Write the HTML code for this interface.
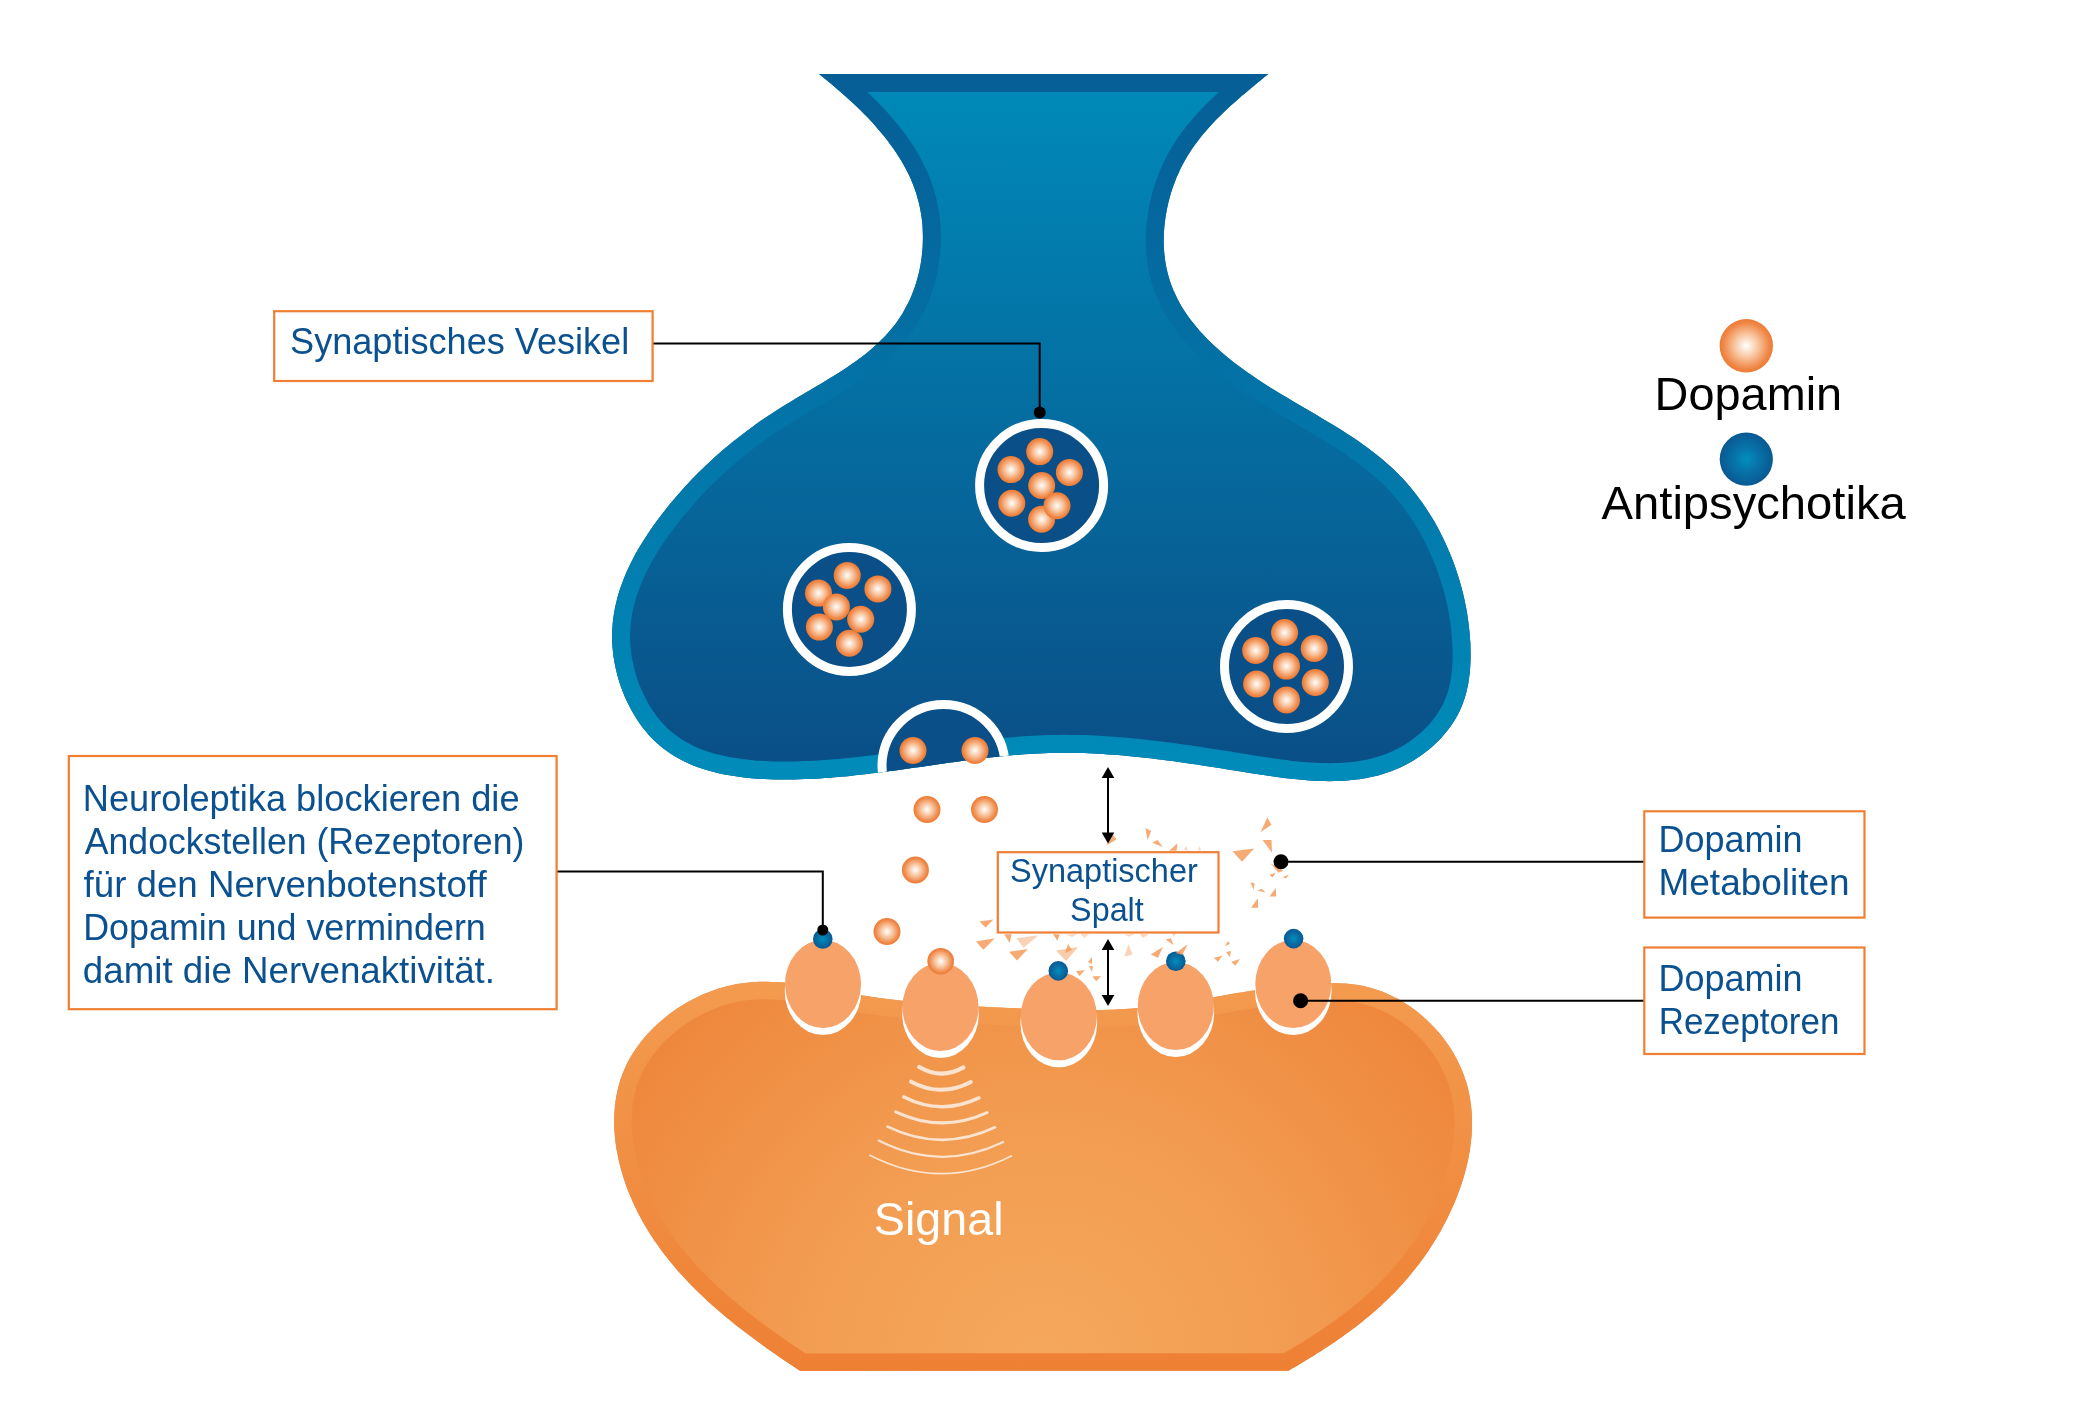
<!DOCTYPE html>
<html><head><meta charset="utf-8"><title>Synapse</title>
<style>html,body{margin:0;padding:0;background:#fff;width:2084px;height:1426px;overflow:hidden}</style>
</head><body>
<svg width="2084" height="1426" viewBox="0 0 2084 1426" style="display:block;font-family:'Liberation Sans',sans-serif">
<defs>
<linearGradient id="gBo" x1="0" y1="74" x2="0" y2="781" gradientUnits="userSpaceOnUse">
 <stop offset="0" stop-color="#065e96"/><stop offset="1" stop-color="#008cba"/></linearGradient>
<linearGradient id="gBi" x1="0" y1="92" x2="0" y2="763" gradientUnits="userSpaceOnUse">
 <stop offset="0" stop-color="#0089b8"/><stop offset="1" stop-color="#0a4f87"/></linearGradient>
<linearGradient id="gOo" x1="0" y1="983" x2="0" y2="1370" gradientUnits="userSpaceOnUse">
 <stop offset="0" stop-color="#f39b4f"/><stop offset="1" stop-color="#ee8034"/></linearGradient>
<radialGradient id="gOi" cx="1043" cy="1365" r="560" gradientUnits="userSpaceOnUse">
 <stop offset="0" stop-color="#f5a85c"/><stop offset="0.45" stop-color="#f29c51"/><stop offset="1" stop-color="#ed8237"/></radialGradient>
<radialGradient id="gD" cx="0.5" cy="0.5" r="0.5">
 <stop offset="0" stop-color="#ffffff"/><stop offset="0.45" stop-color="#f8c49e"/><stop offset="0.85" stop-color="#f08848"/><stop offset="1" stop-color="#ed7b33"/></radialGradient>
<radialGradient id="gA" cx="0.5" cy="0.5" r="0.5">
 <stop offset="0" stop-color="#0090bb"/><stop offset="0.35" stop-color="#0679ad"/><stop offset="1" stop-color="#0a5892"/></radialGradient>
<filter id="noop" x="0" y="0" width="2084" height="1426" filterUnits="userSpaceOnUse"><feOffset dx="0" dy="0"/></filter>
<clipPath id="clipBlue"><path d="M819.0 74.0 L822.7 77.0 L826.4 80.0 L830.1 83.1 L833.9 86.2 L837.6 89.4 L841.4 92.7 L845.1 96.0 L848.9 99.4 L852.6 102.8 L856.3 106.3 L860.0 109.8 L863.6 113.4 L867.2 117.1 L870.7 120.8 L874.1 124.6 L877.5 128.5 L880.9 132.4 L884.1 136.3 L887.3 140.3 L890.3 144.4 L893.3 148.5 L896.2 152.7 L898.9 157.0 L901.6 161.3 L904.1 165.7 L906.4 170.1 L908.7 174.6 L910.8 179.1 L912.7 183.7 L914.5 188.4 L916.1 193.1 L917.5 197.9 L918.8 202.7 L919.9 207.6 L920.8 212.6 L921.6 217.5 L922.2 222.5 L922.6 227.5 L922.8 232.5 L922.9 237.5 L922.8 242.6 L922.6 247.6 L922.2 252.6 L921.6 257.6 L920.9 262.5 L920.0 267.4 L919.0 272.3 L917.7 277.2 L916.4 281.9 L914.9 286.7 L913.2 291.3 L911.4 295.9 L909.4 300.4 L907.2 304.8 L904.9 309.1 L902.5 313.4 L899.9 317.5 L897.2 321.5 L894.3 325.4 L891.3 329.1 L888.1 332.8 L884.8 336.4 L881.4 339.8 L877.9 343.2 L874.3 346.5 L870.6 349.8 L866.8 352.9 L862.9 356.0 L858.9 359.0 L854.8 361.9 L850.7 364.8 L846.5 367.7 L842.3 370.5 L838.0 373.2 L833.6 375.9 L829.3 378.6 L824.9 381.3 L820.5 383.9 L816.0 386.6 L811.6 389.2 L807.1 391.8 L802.7 394.4 L798.2 397.1 L793.8 399.7 L789.4 402.4 L785.1 405.0 L780.7 407.7 L776.4 410.4 L772.2 413.2 L768.0 416.0 L763.8 418.8 L759.7 421.6 L755.6 424.5 L751.6 427.4 L747.6 430.4 L743.6 433.4 L739.7 436.4 L735.8 439.5 L731.9 442.5 L728.1 445.7 L724.4 448.8 L720.6 452.0 L716.9 455.3 L713.3 458.6 L709.7 461.9 L706.1 465.3 L702.5 468.7 L699.0 472.1 L695.6 475.6 L692.1 479.1 L688.7 482.7 L685.4 486.3 L682.1 490.0 L678.8 493.7 L675.5 497.5 L672.3 501.3 L669.1 505.1 L666.0 509.0 L662.9 513.0 L659.8 517.0 L656.8 521.0 L653.8 525.1 L650.9 529.3 L648.1 533.4 L645.3 537.7 L642.6 542.0 L640.0 546.3 L637.4 550.6 L634.9 555.0 L632.6 559.5 L630.3 564.0 L628.2 568.5 L626.1 573.1 L624.2 577.7 L622.4 582.4 L620.7 587.1 L619.1 591.8 L617.7 596.6 L616.5 601.4 L615.3 606.2 L614.4 611.1 L613.6 616.0 L612.9 620.9 L612.5 625.9 L612.2 630.9 L612.1 636.0 L612.1 641.1 L612.4 646.2 L612.9 651.3 L613.5 656.4 L614.3 661.6 L615.3 666.7 L616.5 671.8 L617.8 676.9 L619.3 681.9 L621.0 686.9 L622.8 691.8 L624.8 696.7 L627.0 701.4 L629.3 706.1 L631.7 710.7 L634.3 715.1 L637.0 719.5 L639.9 723.7 L642.8 727.7 L646.0 731.6 L649.2 735.4 L652.6 738.9 L656.1 742.3 L659.7 745.5 L663.4 748.5 L667.2 751.3 L671.1 754.0 L675.1 756.5 L679.2 758.8 L683.4 761.0 L687.7 763.0 L692.0 764.9 L696.5 766.7 L701.0 768.3 L705.6 769.7 L710.2 771.1 L714.9 772.3 L719.6 773.4 L724.4 774.4 L729.3 775.3 L734.2 776.1 L739.1 776.8 L744.1 777.4 L749.0 777.9 L754.0 778.4 L759.1 778.7 L764.1 779.0 L769.2 779.2 L774.2 779.4 L779.3 779.4 L784.4 779.5 L789.4 779.5 L794.5 779.4 L799.6 779.3 L804.6 779.1 L809.7 778.9 L814.7 778.7 L819.8 778.4 L824.8 778.0 L829.8 777.7 L834.9 777.3 L839.9 776.8 L845.0 776.4 L850.0 775.9 L855.0 775.3 L860.0 774.8 L865.1 774.2 L870.1 773.6 L875.1 773.0 L880.1 772.4 L885.1 771.7 L890.1 771.1 L895.2 770.4 L900.2 769.7 L905.2 769.0 L910.2 768.3 L915.2 767.6 L920.2 766.9 L925.1 766.2 L930.1 765.4 L935.1 764.7 L940.1 764.0 L945.1 763.3 L950.1 762.6 L955.0 761.9 L960.0 761.3 L965.0 760.6 L970.0 759.9 L974.9 759.3 L979.9 758.7 L984.8 758.1 L989.8 757.5 L994.7 757.0 L999.7 756.5 L1004.6 756.0 L1009.6 755.5 L1014.5 755.1 L1019.5 754.7 L1024.4 754.3 L1029.4 754.0 L1034.3 753.7 L1039.2 753.4 L1044.1 753.2 L1049.1 753.1 L1054.0 752.9 L1058.9 752.9 L1063.8 752.8 L1068.7 752.9 L1073.7 752.9 L1078.6 753.0 L1083.5 753.1 L1088.4 753.3 L1093.3 753.5 L1098.2 753.8 L1103.1 754.1 L1108.1 754.4 L1113.0 754.7 L1117.9 755.1 L1122.8 755.5 L1127.8 756.0 L1132.7 756.4 L1137.6 756.9 L1142.6 757.4 L1147.5 758.0 L1152.5 758.6 L1157.4 759.2 L1162.4 759.8 L1167.3 760.4 L1172.3 761.1 L1177.3 761.8 L1182.3 762.5 L1187.3 763.2 L1192.3 763.9 L1197.3 764.6 L1202.3 765.4 L1207.3 766.2 L1212.4 767.0 L1217.4 767.7 L1222.5 768.6 L1227.6 769.4 L1232.6 770.2 L1237.7 771.0 L1242.8 771.8 L1248.0 772.7 L1253.1 773.5 L1258.2 774.3 L1263.4 775.1 L1268.5 775.8 L1273.6 776.6 L1278.8 777.3 L1283.9 777.9 L1289.0 778.6 L1294.1 779.1 L1299.2 779.6 L1304.3 780.1 L1309.4 780.5 L1314.5 780.8 L1319.5 781.0 L1324.6 781.1 L1329.6 781.2 L1334.6 781.1 L1339.5 781.0 L1344.5 780.7 L1349.4 780.3 L1354.2 779.8 L1359.1 779.2 L1363.9 778.5 L1368.6 777.6 L1373.4 776.6 L1378.1 775.4 L1382.7 774.1 L1387.3 772.6 L1391.9 771.0 L1396.4 769.1 L1400.8 767.2 L1405.2 765.0 L1409.5 762.7 L1413.8 760.2 L1417.9 757.5 L1422.0 754.8 L1425.9 751.8 L1429.8 748.7 L1433.5 745.5 L1437.0 742.1 L1440.5 738.7 L1443.7 735.0 L1446.8 731.3 L1449.8 727.4 L1452.5 723.5 L1455.1 719.4 L1457.5 715.2 L1459.7 710.9 L1461.6 706.5 L1463.3 702.1 L1464.9 697.5 L1466.2 692.9 L1467.3 688.1 L1468.3 683.4 L1469.0 678.5 L1469.7 673.6 L1470.1 668.7 L1470.4 663.7 L1470.6 658.7 L1470.6 653.6 L1470.5 648.6 L1470.4 643.5 L1470.0 638.4 L1469.6 633.3 L1469.1 628.2 L1468.5 623.1 L1467.8 618.0 L1467.0 612.8 L1466.1 607.8 L1465.1 602.7 L1464.0 597.6 L1462.8 592.5 L1461.5 587.5 L1460.1 582.5 L1458.6 577.5 L1457.0 572.5 L1455.3 567.6 L1453.6 562.7 L1451.7 557.8 L1449.8 553.0 L1447.7 548.2 L1445.6 543.5 L1443.4 538.8 L1441.1 534.2 L1438.8 529.6 L1436.3 525.1 L1433.8 520.6 L1431.1 516.3 L1428.4 511.9 L1425.7 507.7 L1422.8 503.5 L1419.9 499.4 L1416.9 495.4 L1413.8 491.4 L1410.6 487.6 L1407.4 483.8 L1404.1 480.1 L1400.7 476.5 L1397.3 473.0 L1393.8 469.6 L1390.2 466.3 L1386.5 463.0 L1382.8 459.8 L1379.1 456.7 L1375.3 453.7 L1371.4 450.7 L1367.5 447.8 L1363.6 444.9 L1359.6 442.1 L1355.6 439.3 L1351.5 436.6 L1347.4 433.9 L1343.3 431.2 L1339.1 428.6 L1334.9 426.0 L1330.7 423.5 L1326.4 420.9 L1322.2 418.4 L1317.9 415.8 L1313.6 413.3 L1309.3 410.8 L1305.0 408.3 L1300.7 405.8 L1296.4 403.2 L1292.1 400.7 L1287.8 398.1 L1283.4 395.6 L1279.1 393.0 L1274.8 390.3 L1270.5 387.7 L1266.3 385.0 L1262.0 382.2 L1257.8 379.5 L1253.6 376.6 L1249.4 373.7 L1245.2 370.8 L1241.1 367.8 L1237.0 364.8 L1233.0 361.7 L1229.0 358.5 L1225.1 355.3 L1221.2 352.0 L1217.4 348.6 L1213.7 345.2 L1210.1 341.7 L1206.5 338.2 L1203.1 334.6 L1199.7 330.9 L1196.5 327.1 L1193.4 323.3 L1190.4 319.4 L1187.5 315.5 L1184.8 311.4 L1182.2 307.4 L1179.8 303.2 L1177.5 298.9 L1175.4 294.6 L1173.4 290.2 L1171.6 285.8 L1170.0 281.2 L1168.6 276.6 L1167.4 271.9 L1166.3 267.2 L1165.4 262.3 L1164.8 257.5 L1164.2 252.6 L1163.9 247.6 L1163.7 242.6 L1163.8 237.6 L1163.9 232.6 L1164.3 227.5 L1164.8 222.5 L1165.5 217.5 L1166.3 212.4 L1167.3 207.4 L1168.4 202.5 L1169.7 197.5 L1171.1 192.6 L1172.7 187.7 L1174.5 182.9 L1176.3 178.1 L1178.4 173.4 L1180.5 168.8 L1182.8 164.3 L1185.3 159.8 L1187.8 155.5 L1190.5 151.2 L1193.3 147.0 L1196.3 142.9 L1199.3 138.9 L1202.4 135.0 L1205.7 131.2 L1209.0 127.4 L1212.4 123.7 L1215.8 120.0 L1219.4 116.5 L1223.0 112.9 L1226.6 109.5 L1230.3 106.1 L1234.1 102.7 L1237.8 99.4 L1241.6 96.1 L1245.4 92.9 L1249.2 89.7 L1253.1 86.5 L1256.9 83.3 L1260.7 80.2 L1264.5 77.1 L1268.3 74.0 Z"/></clipPath>
<clipPath id="clipOrg"><path d="M800.3 1371.0 L796.9 1368.8 L793.6 1366.5 L790.2 1364.3 L786.8 1362.0 L783.4 1359.7 L780.0 1357.4 L776.6 1355.1 L773.2 1352.7 L769.8 1350.3 L766.4 1347.9 L763.1 1345.5 L759.7 1343.1 L756.3 1340.6 L753.0 1338.1 L749.6 1335.6 L746.3 1333.1 L742.9 1330.6 L739.6 1328.0 L736.3 1325.4 L733.0 1322.8 L729.8 1320.1 L726.5 1317.4 L723.3 1314.7 L720.1 1312.0 L716.9 1309.3 L713.7 1306.5 L710.6 1303.7 L707.5 1300.9 L704.4 1298.0 L701.3 1295.1 L698.3 1292.2 L695.3 1289.2 L692.3 1286.3 L689.4 1283.2 L686.5 1280.2 L683.6 1277.1 L680.8 1274.0 L678.0 1270.9 L675.3 1267.7 L672.6 1264.5 L669.9 1261.3 L667.3 1258.0 L664.7 1254.7 L662.2 1251.4 L659.7 1248.0 L657.3 1244.6 L654.9 1241.2 L652.6 1237.7 L650.3 1234.2 L648.1 1230.7 L645.9 1227.1 L643.8 1223.5 L641.7 1219.8 L639.7 1216.1 L637.8 1212.4 L635.9 1208.6 L634.1 1204.8 L632.4 1201.0 L630.7 1197.1 L629.1 1193.2 L627.5 1189.2 L626.0 1185.2 L624.7 1181.2 L623.3 1177.2 L622.1 1173.1 L620.9 1169.1 L619.9 1165.0 L618.9 1160.9 L618.0 1156.7 L617.2 1152.6 L616.4 1148.5 L615.8 1144.4 L615.3 1140.2 L614.9 1136.1 L614.5 1132.0 L614.3 1127.8 L614.2 1123.7 L614.2 1119.6 L614.3 1115.5 L614.5 1111.5 L614.8 1107.4 L615.2 1103.4 L615.8 1099.4 L616.5 1095.4 L617.3 1091.4 L618.2 1087.5 L619.3 1083.6 L620.4 1079.8 L621.8 1076.0 L623.2 1072.2 L624.8 1068.5 L626.5 1064.8 L628.4 1061.1 L630.3 1057.6 L632.4 1054.0 L634.7 1050.6 L637.0 1047.2 L639.5 1043.8 L642.0 1040.5 L644.7 1037.3 L647.5 1034.1 L650.4 1031.0 L653.3 1028.0 L656.4 1025.1 L659.6 1022.2 L662.8 1019.4 L666.1 1016.7 L669.5 1014.1 L672.9 1011.6 L676.5 1009.1 L680.0 1006.8 L683.7 1004.5 L687.4 1002.3 L691.2 1000.3 L695.0 998.3 L698.8 996.4 L702.7 994.6 L706.6 993.0 L710.6 991.4 L714.5 990.0 L718.6 988.6 L722.6 987.4 L726.6 986.3 L730.7 985.4 L734.8 984.5 L738.8 983.8 L742.9 983.2 L747.0 982.7 L751.1 982.3 L755.2 982.0 L759.3 981.8 L763.4 981.7 L767.5 981.8 L771.6 981.9 L775.7 982.0 L779.8 982.3 L783.9 982.6 L788.1 983.0 L792.2 983.4 L796.3 983.9 L800.4 984.5 L804.6 985.1 L808.7 985.7 L812.8 986.4 L817.0 987.1 L821.1 987.8 L825.3 988.6 L829.4 989.3 L833.6 990.1 L837.7 990.9 L841.9 991.6 L846.0 992.4 L850.2 993.2 L854.3 993.9 L858.5 994.7 L862.7 995.4 L866.8 996.0 L871.0 996.7 L875.1 997.3 L879.3 997.9 L883.5 998.5 L887.6 999.0 L891.8 999.5 L895.9 1000.0 L900.1 1000.5 L904.3 1001.0 L908.4 1001.4 L912.6 1001.8 L916.8 1002.2 L920.9 1002.6 L925.1 1003.0 L929.3 1003.3 L933.4 1003.7 L937.6 1004.0 L941.8 1004.3 L945.9 1004.6 L950.1 1004.9 L954.3 1005.1 L958.4 1005.4 L962.6 1005.7 L966.8 1005.9 L970.9 1006.1 L975.1 1006.4 L979.3 1006.6 L983.4 1006.8 L987.6 1007.0 L991.8 1007.2 L995.9 1007.4 L1000.1 1007.6 L1004.2 1007.8 L1008.4 1008.0 L1012.6 1008.1 L1016.7 1008.3 L1020.9 1008.5 L1025.1 1008.7 L1029.2 1008.9 L1033.4 1009.1 L1037.6 1009.2 L1041.7 1009.4 L1045.9 1009.5 L1050.0 1009.7 L1054.2 1009.8 L1058.4 1009.9 L1062.5 1010.0 L1066.7 1010.1 L1070.8 1010.1 L1075.0 1010.2 L1079.2 1010.2 L1083.3 1010.2 L1087.5 1010.2 L1091.6 1010.2 L1095.8 1010.1 L1099.9 1010.1 L1104.1 1010.0 L1108.3 1009.8 L1112.4 1009.7 L1116.6 1009.5 L1120.7 1009.3 L1124.9 1009.0 L1129.0 1008.7 L1133.2 1008.4 L1137.4 1008.1 L1141.5 1007.7 L1145.7 1007.2 L1149.8 1006.8 L1154.0 1006.3 L1158.1 1005.8 L1162.3 1005.3 L1166.4 1004.7 L1170.6 1004.1 L1174.8 1003.5 L1178.9 1002.9 L1183.1 1002.2 L1187.2 1001.6 L1191.4 1000.9 L1195.5 1000.2 L1199.7 999.5 L1203.9 998.8 L1208.0 998.1 L1212.2 997.4 L1216.3 996.7 L1220.5 995.9 L1224.7 995.2 L1228.8 994.5 L1233.0 993.8 L1237.1 993.1 L1241.3 992.4 L1245.5 991.7 L1249.6 991.1 L1253.8 990.4 L1258.0 989.8 L1262.1 989.1 L1266.3 988.5 L1270.5 988.0 L1274.6 987.4 L1278.8 986.9 L1283.0 986.4 L1287.2 985.9 L1291.3 985.5 L1295.5 985.1 L1299.7 984.7 L1303.9 984.4 L1308.1 984.1 L1312.2 983.8 L1316.4 983.6 L1320.6 983.5 L1324.8 983.4 L1329.0 983.3 L1333.2 983.3 L1337.4 983.3 L1341.6 983.4 L1345.7 983.6 L1349.9 984.0 L1354.0 984.4 L1358.1 985.1 L1362.2 985.8 L1366.2 986.7 L1370.3 987.7 L1374.2 988.9 L1378.1 990.2 L1382.0 991.6 L1385.9 993.2 L1389.7 994.9 L1393.4 996.7 L1397.1 998.6 L1400.7 1000.6 L1404.3 1002.8 L1407.8 1005.0 L1411.2 1007.3 L1414.6 1009.8 L1417.9 1012.3 L1421.1 1015.0 L1424.3 1017.7 L1427.3 1020.5 L1430.3 1023.4 L1433.3 1026.4 L1436.1 1029.5 L1438.8 1032.6 L1441.5 1035.8 L1444.0 1039.1 L1446.5 1042.4 L1448.8 1045.8 L1451.1 1049.3 L1453.2 1052.8 L1455.3 1056.4 L1457.2 1060.0 L1459.0 1063.7 L1460.7 1067.5 L1462.3 1071.2 L1463.8 1075.0 L1465.1 1078.9 L1466.4 1082.7 L1467.5 1086.6 L1468.4 1090.6 L1469.3 1094.5 L1470.0 1098.5 L1470.6 1102.5 L1471.1 1106.5 L1471.5 1110.6 L1471.8 1114.6 L1472.0 1118.7 L1472.0 1122.8 L1472.0 1126.9 L1471.8 1131.0 L1471.6 1135.2 L1471.2 1139.3 L1470.8 1143.4 L1470.2 1147.6 L1469.6 1151.7 L1468.8 1155.8 L1468.0 1160.0 L1467.1 1164.1 L1466.1 1168.2 L1465.0 1172.3 L1463.9 1176.4 L1462.6 1180.5 L1461.3 1184.6 L1459.9 1188.7 L1458.4 1192.7 L1456.9 1196.7 L1455.3 1200.8 L1453.6 1204.7 L1451.8 1208.7 L1450.0 1212.6 L1448.2 1216.5 L1446.2 1220.4 L1444.2 1224.3 L1442.2 1228.1 L1440.1 1231.9 L1437.9 1235.6 L1435.7 1239.3 L1433.4 1243.0 L1431.1 1246.6 L1428.8 1250.2 L1426.4 1253.7 L1424.0 1257.2 L1421.5 1260.6 L1419.0 1264.0 L1416.4 1267.3 L1413.8 1270.6 L1411.2 1273.8 L1408.6 1277.0 L1405.9 1280.1 L1403.2 1283.2 L1400.4 1286.3 L1397.6 1289.3 L1394.8 1292.2 L1391.9 1295.1 L1389.0 1298.0 L1386.1 1300.8 L1383.1 1303.6 L1380.2 1306.4 L1377.1 1309.1 L1374.1 1311.8 L1371.0 1314.4 L1367.9 1317.1 L1364.7 1319.6 L1361.6 1322.2 L1358.4 1324.7 L1355.1 1327.2 L1351.8 1329.7 L1348.6 1332.1 L1345.2 1334.6 L1341.9 1336.9 L1338.5 1339.3 L1335.1 1341.7 L1331.7 1344.0 L1328.2 1346.3 L1324.7 1348.6 L1321.2 1350.9 L1317.6 1353.1 L1314.1 1355.4 L1310.5 1357.6 L1306.9 1359.8 L1303.2 1362.0 L1299.6 1364.2 L1295.9 1366.4 L1292.1 1368.5 L1288.4 1370.7 Z"/></clipPath>
</defs>
<rect width="2084" height="1426" fill="#fff"/>
<path d="M819.0 74.0 L822.7 77.0 L826.4 80.0 L830.1 83.1 L833.9 86.2 L837.6 89.4 L841.4 92.7 L845.1 96.0 L848.9 99.4 L852.6 102.8 L856.3 106.3 L860.0 109.8 L863.6 113.4 L867.2 117.1 L870.7 120.8 L874.1 124.6 L877.5 128.5 L880.9 132.4 L884.1 136.3 L887.3 140.3 L890.3 144.4 L893.3 148.5 L896.2 152.7 L898.9 157.0 L901.6 161.3 L904.1 165.7 L906.4 170.1 L908.7 174.6 L910.8 179.1 L912.7 183.7 L914.5 188.4 L916.1 193.1 L917.5 197.9 L918.8 202.7 L919.9 207.6 L920.8 212.6 L921.6 217.5 L922.2 222.5 L922.6 227.5 L922.8 232.5 L922.9 237.5 L922.8 242.6 L922.6 247.6 L922.2 252.6 L921.6 257.6 L920.9 262.5 L920.0 267.4 L919.0 272.3 L917.7 277.2 L916.4 281.9 L914.9 286.7 L913.2 291.3 L911.4 295.9 L909.4 300.4 L907.2 304.8 L904.9 309.1 L902.5 313.4 L899.9 317.5 L897.2 321.5 L894.3 325.4 L891.3 329.1 L888.1 332.8 L884.8 336.4 L881.4 339.8 L877.9 343.2 L874.3 346.5 L870.6 349.8 L866.8 352.9 L862.9 356.0 L858.9 359.0 L854.8 361.9 L850.7 364.8 L846.5 367.7 L842.3 370.5 L838.0 373.2 L833.6 375.9 L829.3 378.6 L824.9 381.3 L820.5 383.9 L816.0 386.6 L811.6 389.2 L807.1 391.8 L802.7 394.4 L798.2 397.1 L793.8 399.7 L789.4 402.4 L785.1 405.0 L780.7 407.7 L776.4 410.4 L772.2 413.2 L768.0 416.0 L763.8 418.8 L759.7 421.6 L755.6 424.5 L751.6 427.4 L747.6 430.4 L743.6 433.4 L739.7 436.4 L735.8 439.5 L731.9 442.5 L728.1 445.7 L724.4 448.8 L720.6 452.0 L716.9 455.3 L713.3 458.6 L709.7 461.9 L706.1 465.3 L702.5 468.7 L699.0 472.1 L695.6 475.6 L692.1 479.1 L688.7 482.7 L685.4 486.3 L682.1 490.0 L678.8 493.7 L675.5 497.5 L672.3 501.3 L669.1 505.1 L666.0 509.0 L662.9 513.0 L659.8 517.0 L656.8 521.0 L653.8 525.1 L650.9 529.3 L648.1 533.4 L645.3 537.7 L642.6 542.0 L640.0 546.3 L637.4 550.6 L634.9 555.0 L632.6 559.5 L630.3 564.0 L628.2 568.5 L626.1 573.1 L624.2 577.7 L622.4 582.4 L620.7 587.1 L619.1 591.8 L617.7 596.6 L616.5 601.4 L615.3 606.2 L614.4 611.1 L613.6 616.0 L612.9 620.9 L612.5 625.9 L612.2 630.9 L612.1 636.0 L612.1 641.1 L612.4 646.2 L612.9 651.3 L613.5 656.4 L614.3 661.6 L615.3 666.7 L616.5 671.8 L617.8 676.9 L619.3 681.9 L621.0 686.9 L622.8 691.8 L624.8 696.7 L627.0 701.4 L629.3 706.1 L631.7 710.7 L634.3 715.1 L637.0 719.5 L639.9 723.7 L642.8 727.7 L646.0 731.6 L649.2 735.4 L652.6 738.9 L656.1 742.3 L659.7 745.5 L663.4 748.5 L667.2 751.3 L671.1 754.0 L675.1 756.5 L679.2 758.8 L683.4 761.0 L687.7 763.0 L692.0 764.9 L696.5 766.7 L701.0 768.3 L705.6 769.7 L710.2 771.1 L714.9 772.3 L719.6 773.4 L724.4 774.4 L729.3 775.3 L734.2 776.1 L739.1 776.8 L744.1 777.4 L749.0 777.9 L754.0 778.4 L759.1 778.7 L764.1 779.0 L769.2 779.2 L774.2 779.4 L779.3 779.4 L784.4 779.5 L789.4 779.5 L794.5 779.4 L799.6 779.3 L804.6 779.1 L809.7 778.9 L814.7 778.7 L819.8 778.4 L824.8 778.0 L829.8 777.7 L834.9 777.3 L839.9 776.8 L845.0 776.4 L850.0 775.9 L855.0 775.3 L860.0 774.8 L865.1 774.2 L870.1 773.6 L875.1 773.0 L880.1 772.4 L885.1 771.7 L890.1 771.1 L895.2 770.4 L900.2 769.7 L905.2 769.0 L910.2 768.3 L915.2 767.6 L920.2 766.9 L925.1 766.2 L930.1 765.4 L935.1 764.7 L940.1 764.0 L945.1 763.3 L950.1 762.6 L955.0 761.9 L960.0 761.3 L965.0 760.6 L970.0 759.9 L974.9 759.3 L979.9 758.7 L984.8 758.1 L989.8 757.5 L994.7 757.0 L999.7 756.5 L1004.6 756.0 L1009.6 755.5 L1014.5 755.1 L1019.5 754.7 L1024.4 754.3 L1029.4 754.0 L1034.3 753.7 L1039.2 753.4 L1044.1 753.2 L1049.1 753.1 L1054.0 752.9 L1058.9 752.9 L1063.8 752.8 L1068.7 752.9 L1073.7 752.9 L1078.6 753.0 L1083.5 753.1 L1088.4 753.3 L1093.3 753.5 L1098.2 753.8 L1103.1 754.1 L1108.1 754.4 L1113.0 754.7 L1117.9 755.1 L1122.8 755.5 L1127.8 756.0 L1132.7 756.4 L1137.6 756.9 L1142.6 757.4 L1147.5 758.0 L1152.5 758.6 L1157.4 759.2 L1162.4 759.8 L1167.3 760.4 L1172.3 761.1 L1177.3 761.8 L1182.3 762.5 L1187.3 763.2 L1192.3 763.9 L1197.3 764.6 L1202.3 765.4 L1207.3 766.2 L1212.4 767.0 L1217.4 767.7 L1222.5 768.6 L1227.6 769.4 L1232.6 770.2 L1237.7 771.0 L1242.8 771.8 L1248.0 772.7 L1253.1 773.5 L1258.2 774.3 L1263.4 775.1 L1268.5 775.8 L1273.6 776.6 L1278.8 777.3 L1283.9 777.9 L1289.0 778.6 L1294.1 779.1 L1299.2 779.6 L1304.3 780.1 L1309.4 780.5 L1314.5 780.8 L1319.5 781.0 L1324.6 781.1 L1329.6 781.2 L1334.6 781.1 L1339.5 781.0 L1344.5 780.7 L1349.4 780.3 L1354.2 779.8 L1359.1 779.2 L1363.9 778.5 L1368.6 777.6 L1373.4 776.6 L1378.1 775.4 L1382.7 774.1 L1387.3 772.6 L1391.9 771.0 L1396.4 769.1 L1400.8 767.2 L1405.2 765.0 L1409.5 762.7 L1413.8 760.2 L1417.9 757.5 L1422.0 754.8 L1425.9 751.8 L1429.8 748.7 L1433.5 745.5 L1437.0 742.1 L1440.5 738.7 L1443.7 735.0 L1446.8 731.3 L1449.8 727.4 L1452.5 723.5 L1455.1 719.4 L1457.5 715.2 L1459.7 710.9 L1461.6 706.5 L1463.3 702.1 L1464.9 697.5 L1466.2 692.9 L1467.3 688.1 L1468.3 683.4 L1469.0 678.5 L1469.7 673.6 L1470.1 668.7 L1470.4 663.7 L1470.6 658.7 L1470.6 653.6 L1470.5 648.6 L1470.4 643.5 L1470.0 638.4 L1469.6 633.3 L1469.1 628.2 L1468.5 623.1 L1467.8 618.0 L1467.0 612.8 L1466.1 607.8 L1465.1 602.7 L1464.0 597.6 L1462.8 592.5 L1461.5 587.5 L1460.1 582.5 L1458.6 577.5 L1457.0 572.5 L1455.3 567.6 L1453.6 562.7 L1451.7 557.8 L1449.8 553.0 L1447.7 548.2 L1445.6 543.5 L1443.4 538.8 L1441.1 534.2 L1438.8 529.6 L1436.3 525.1 L1433.8 520.6 L1431.1 516.3 L1428.4 511.9 L1425.7 507.7 L1422.8 503.5 L1419.9 499.4 L1416.9 495.4 L1413.8 491.4 L1410.6 487.6 L1407.4 483.8 L1404.1 480.1 L1400.7 476.5 L1397.3 473.0 L1393.8 469.6 L1390.2 466.3 L1386.5 463.0 L1382.8 459.8 L1379.1 456.7 L1375.3 453.7 L1371.4 450.7 L1367.5 447.8 L1363.6 444.9 L1359.6 442.1 L1355.6 439.3 L1351.5 436.6 L1347.4 433.9 L1343.3 431.2 L1339.1 428.6 L1334.9 426.0 L1330.7 423.5 L1326.4 420.9 L1322.2 418.4 L1317.9 415.8 L1313.6 413.3 L1309.3 410.8 L1305.0 408.3 L1300.7 405.8 L1296.4 403.2 L1292.1 400.7 L1287.8 398.1 L1283.4 395.6 L1279.1 393.0 L1274.8 390.3 L1270.5 387.7 L1266.3 385.0 L1262.0 382.2 L1257.8 379.5 L1253.6 376.6 L1249.4 373.7 L1245.2 370.8 L1241.1 367.8 L1237.0 364.8 L1233.0 361.7 L1229.0 358.5 L1225.1 355.3 L1221.2 352.0 L1217.4 348.6 L1213.7 345.2 L1210.1 341.7 L1206.5 338.2 L1203.1 334.6 L1199.7 330.9 L1196.5 327.1 L1193.4 323.3 L1190.4 319.4 L1187.5 315.5 L1184.8 311.4 L1182.2 307.4 L1179.8 303.2 L1177.5 298.9 L1175.4 294.6 L1173.4 290.2 L1171.6 285.8 L1170.0 281.2 L1168.6 276.6 L1167.4 271.9 L1166.3 267.2 L1165.4 262.3 L1164.8 257.5 L1164.2 252.6 L1163.9 247.6 L1163.7 242.6 L1163.8 237.6 L1163.9 232.6 L1164.3 227.5 L1164.8 222.5 L1165.5 217.5 L1166.3 212.4 L1167.3 207.4 L1168.4 202.5 L1169.7 197.5 L1171.1 192.6 L1172.7 187.7 L1174.5 182.9 L1176.3 178.1 L1178.4 173.4 L1180.5 168.8 L1182.8 164.3 L1185.3 159.8 L1187.8 155.5 L1190.5 151.2 L1193.3 147.0 L1196.3 142.9 L1199.3 138.9 L1202.4 135.0 L1205.7 131.2 L1209.0 127.4 L1212.4 123.7 L1215.8 120.0 L1219.4 116.5 L1223.0 112.9 L1226.6 109.5 L1230.3 106.1 L1234.1 102.7 L1237.8 99.4 L1241.6 96.1 L1245.4 92.9 L1249.2 89.7 L1253.1 86.5 L1256.9 83.3 L1260.7 80.2 L1264.5 77.1 L1268.3 74.0 Z" fill="url(#gBi)"/>
<path d="M819.0 74.0 L822.7 77.0 L826.4 80.0 L830.1 83.1 L833.9 86.2 L837.6 89.4 L841.4 92.7 L845.1 96.0 L848.9 99.4 L852.6 102.8 L856.3 106.3 L860.0 109.8 L863.6 113.4 L867.2 117.1 L870.7 120.8 L874.1 124.6 L877.5 128.5 L880.9 132.4 L884.1 136.3 L887.3 140.3 L890.3 144.4 L893.3 148.5 L896.2 152.7 L898.9 157.0 L901.6 161.3 L904.1 165.7 L906.4 170.1 L908.7 174.6 L910.8 179.1 L912.7 183.7 L914.5 188.4 L916.1 193.1 L917.5 197.9 L918.8 202.7 L919.9 207.6 L920.8 212.6 L921.6 217.5 L922.2 222.5 L922.6 227.5 L922.8 232.5 L922.9 237.5 L922.8 242.6 L922.6 247.6 L922.2 252.6 L921.6 257.6 L920.9 262.5 L920.0 267.4 L919.0 272.3 L917.7 277.2 L916.4 281.9 L914.9 286.7 L913.2 291.3 L911.4 295.9 L909.4 300.4 L907.2 304.8 L904.9 309.1 L902.5 313.4 L899.9 317.5 L897.2 321.5 L894.3 325.4 L891.3 329.1 L888.1 332.8 L884.8 336.4 L881.4 339.8 L877.9 343.2 L874.3 346.5 L870.6 349.8 L866.8 352.9 L862.9 356.0 L858.9 359.0 L854.8 361.9 L850.7 364.8 L846.5 367.7 L842.3 370.5 L838.0 373.2 L833.6 375.9 L829.3 378.6 L824.9 381.3 L820.5 383.9 L816.0 386.6 L811.6 389.2 L807.1 391.8 L802.7 394.4 L798.2 397.1 L793.8 399.7 L789.4 402.4 L785.1 405.0 L780.7 407.7 L776.4 410.4 L772.2 413.2 L768.0 416.0 L763.8 418.8 L759.7 421.6 L755.6 424.5 L751.6 427.4 L747.6 430.4 L743.6 433.4 L739.7 436.4 L735.8 439.5 L731.9 442.5 L728.1 445.7 L724.4 448.8 L720.6 452.0 L716.9 455.3 L713.3 458.6 L709.7 461.9 L706.1 465.3 L702.5 468.7 L699.0 472.1 L695.6 475.6 L692.1 479.1 L688.7 482.7 L685.4 486.3 L682.1 490.0 L678.8 493.7 L675.5 497.5 L672.3 501.3 L669.1 505.1 L666.0 509.0 L662.9 513.0 L659.8 517.0 L656.8 521.0 L653.8 525.1 L650.9 529.3 L648.1 533.4 L645.3 537.7 L642.6 542.0 L640.0 546.3 L637.4 550.6 L634.9 555.0 L632.6 559.5 L630.3 564.0 L628.2 568.5 L626.1 573.1 L624.2 577.7 L622.4 582.4 L620.7 587.1 L619.1 591.8 L617.7 596.6 L616.5 601.4 L615.3 606.2 L614.4 611.1 L613.6 616.0 L612.9 620.9 L612.5 625.9 L612.2 630.9 L612.1 636.0 L612.1 641.1 L612.4 646.2 L612.9 651.3 L613.5 656.4 L614.3 661.6 L615.3 666.7 L616.5 671.8 L617.8 676.9 L619.3 681.9 L621.0 686.9 L622.8 691.8 L624.8 696.7 L627.0 701.4 L629.3 706.1 L631.7 710.7 L634.3 715.1 L637.0 719.5 L639.9 723.7 L642.8 727.7 L646.0 731.6 L649.2 735.4 L652.6 738.9 L656.1 742.3 L659.7 745.5 L663.4 748.5 L667.2 751.3 L671.1 754.0 L675.1 756.5 L679.2 758.8 L683.4 761.0 L687.7 763.0 L692.0 764.9 L696.5 766.7 L701.0 768.3 L705.6 769.7 L710.2 771.1 L714.9 772.3 L719.6 773.4 L724.4 774.4 L729.3 775.3 L734.2 776.1 L739.1 776.8 L744.1 777.4 L749.0 777.9 L754.0 778.4 L759.1 778.7 L764.1 779.0 L769.2 779.2 L774.2 779.4 L779.3 779.4 L784.4 779.5 L789.4 779.5 L794.5 779.4 L799.6 779.3 L804.6 779.1 L809.7 778.9 L814.7 778.7 L819.8 778.4 L824.8 778.0 L829.8 777.7 L834.9 777.3 L839.9 776.8 L845.0 776.4 L850.0 775.9 L855.0 775.3 L860.0 774.8 L865.1 774.2 L870.1 773.6 L875.1 773.0 L880.1 772.4 L885.1 771.7 L890.1 771.1 L895.2 770.4 L900.2 769.7 L905.2 769.0 L910.2 768.3 L915.2 767.6 L920.2 766.9 L925.1 766.2 L930.1 765.4 L935.1 764.7 L940.1 764.0 L945.1 763.3 L950.1 762.6 L955.0 761.9 L960.0 761.3 L965.0 760.6 L970.0 759.9 L974.9 759.3 L979.9 758.7 L984.8 758.1 L989.8 757.5 L994.7 757.0 L999.7 756.5 L1004.6 756.0 L1009.6 755.5 L1014.5 755.1 L1019.5 754.7 L1024.4 754.3 L1029.4 754.0 L1034.3 753.7 L1039.2 753.4 L1044.1 753.2 L1049.1 753.1 L1054.0 752.9 L1058.9 752.9 L1063.8 752.8 L1068.7 752.9 L1073.7 752.9 L1078.6 753.0 L1083.5 753.1 L1088.4 753.3 L1093.3 753.5 L1098.2 753.8 L1103.1 754.1 L1108.1 754.4 L1113.0 754.7 L1117.9 755.1 L1122.8 755.5 L1127.8 756.0 L1132.7 756.4 L1137.6 756.9 L1142.6 757.4 L1147.5 758.0 L1152.5 758.6 L1157.4 759.2 L1162.4 759.8 L1167.3 760.4 L1172.3 761.1 L1177.3 761.8 L1182.3 762.5 L1187.3 763.2 L1192.3 763.9 L1197.3 764.6 L1202.3 765.4 L1207.3 766.2 L1212.4 767.0 L1217.4 767.7 L1222.5 768.6 L1227.6 769.4 L1232.6 770.2 L1237.7 771.0 L1242.8 771.8 L1248.0 772.7 L1253.1 773.5 L1258.2 774.3 L1263.4 775.1 L1268.5 775.8 L1273.6 776.6 L1278.8 777.3 L1283.9 777.9 L1289.0 778.6 L1294.1 779.1 L1299.2 779.6 L1304.3 780.1 L1309.4 780.5 L1314.5 780.8 L1319.5 781.0 L1324.6 781.1 L1329.6 781.2 L1334.6 781.1 L1339.5 781.0 L1344.5 780.7 L1349.4 780.3 L1354.2 779.8 L1359.1 779.2 L1363.9 778.5 L1368.6 777.6 L1373.4 776.6 L1378.1 775.4 L1382.7 774.1 L1387.3 772.6 L1391.9 771.0 L1396.4 769.1 L1400.8 767.2 L1405.2 765.0 L1409.5 762.7 L1413.8 760.2 L1417.9 757.5 L1422.0 754.8 L1425.9 751.8 L1429.8 748.7 L1433.5 745.5 L1437.0 742.1 L1440.5 738.7 L1443.7 735.0 L1446.8 731.3 L1449.8 727.4 L1452.5 723.5 L1455.1 719.4 L1457.5 715.2 L1459.7 710.9 L1461.6 706.5 L1463.3 702.1 L1464.9 697.5 L1466.2 692.9 L1467.3 688.1 L1468.3 683.4 L1469.0 678.5 L1469.7 673.6 L1470.1 668.7 L1470.4 663.7 L1470.6 658.7 L1470.6 653.6 L1470.5 648.6 L1470.4 643.5 L1470.0 638.4 L1469.6 633.3 L1469.1 628.2 L1468.5 623.1 L1467.8 618.0 L1467.0 612.8 L1466.1 607.8 L1465.1 602.7 L1464.0 597.6 L1462.8 592.5 L1461.5 587.5 L1460.1 582.5 L1458.6 577.5 L1457.0 572.5 L1455.3 567.6 L1453.6 562.7 L1451.7 557.8 L1449.8 553.0 L1447.7 548.2 L1445.6 543.5 L1443.4 538.8 L1441.1 534.2 L1438.8 529.6 L1436.3 525.1 L1433.8 520.6 L1431.1 516.3 L1428.4 511.9 L1425.7 507.7 L1422.8 503.5 L1419.9 499.4 L1416.9 495.4 L1413.8 491.4 L1410.6 487.6 L1407.4 483.8 L1404.1 480.1 L1400.7 476.5 L1397.3 473.0 L1393.8 469.6 L1390.2 466.3 L1386.5 463.0 L1382.8 459.8 L1379.1 456.7 L1375.3 453.7 L1371.4 450.7 L1367.5 447.8 L1363.6 444.9 L1359.6 442.1 L1355.6 439.3 L1351.5 436.6 L1347.4 433.9 L1343.3 431.2 L1339.1 428.6 L1334.9 426.0 L1330.7 423.5 L1326.4 420.9 L1322.2 418.4 L1317.9 415.8 L1313.6 413.3 L1309.3 410.8 L1305.0 408.3 L1300.7 405.8 L1296.4 403.2 L1292.1 400.7 L1287.8 398.1 L1283.4 395.6 L1279.1 393.0 L1274.8 390.3 L1270.5 387.7 L1266.3 385.0 L1262.0 382.2 L1257.8 379.5 L1253.6 376.6 L1249.4 373.7 L1245.2 370.8 L1241.1 367.8 L1237.0 364.8 L1233.0 361.7 L1229.0 358.5 L1225.1 355.3 L1221.2 352.0 L1217.4 348.6 L1213.7 345.2 L1210.1 341.7 L1206.5 338.2 L1203.1 334.6 L1199.7 330.9 L1196.5 327.1 L1193.4 323.3 L1190.4 319.4 L1187.5 315.5 L1184.8 311.4 L1182.2 307.4 L1179.8 303.2 L1177.5 298.9 L1175.4 294.6 L1173.4 290.2 L1171.6 285.8 L1170.0 281.2 L1168.6 276.6 L1167.4 271.9 L1166.3 267.2 L1165.4 262.3 L1164.8 257.5 L1164.2 252.6 L1163.9 247.6 L1163.7 242.6 L1163.8 237.6 L1163.9 232.6 L1164.3 227.5 L1164.8 222.5 L1165.5 217.5 L1166.3 212.4 L1167.3 207.4 L1168.4 202.5 L1169.7 197.5 L1171.1 192.6 L1172.7 187.7 L1174.5 182.9 L1176.3 178.1 L1178.4 173.4 L1180.5 168.8 L1182.8 164.3 L1185.3 159.8 L1187.8 155.5 L1190.5 151.2 L1193.3 147.0 L1196.3 142.9 L1199.3 138.9 L1202.4 135.0 L1205.7 131.2 L1209.0 127.4 L1212.4 123.7 L1215.8 120.0 L1219.4 116.5 L1223.0 112.9 L1226.6 109.5 L1230.3 106.1 L1234.1 102.7 L1237.8 99.4 L1241.6 96.1 L1245.4 92.9 L1249.2 89.7 L1253.1 86.5 L1256.9 83.3 L1260.7 80.2 L1264.5 77.1 L1268.3 74.0 Z" fill="none" stroke="url(#gBo)" stroke-width="36" stroke-linejoin="miter" stroke-miterlimit="10" clip-path="url(#clipBlue)"/>
<circle cx="1041.6" cy="485.5" r="62" fill="#0a4f87" stroke="#fff" stroke-width="9"/><circle cx="1039.7" cy="451.6" r="13.5" fill="url(#gD)"/><circle cx="1011.0" cy="469.6" r="13.5" fill="url(#gD)"/><circle cx="1069.4" cy="472.4" r="13.5" fill="url(#gD)"/><circle cx="1041.7" cy="485.5" r="13.5" fill="url(#gD)"/><circle cx="1011.8" cy="503.2" r="13.5" fill="url(#gD)"/><circle cx="1041.6" cy="519.3" r="13.5" fill="url(#gD)"/><circle cx="1057.0" cy="505.7" r="13.5" fill="url(#gD)"/><circle cx="849.4" cy="609.4" r="62" fill="#0a4f87" stroke="#fff" stroke-width="9"/><circle cx="847.2" cy="575.4" r="13.5" fill="url(#gD)"/><circle cx="877.9" cy="588.9" r="13.5" fill="url(#gD)"/><circle cx="818.5" cy="593.1" r="13.5" fill="url(#gD)"/><circle cx="836.4" cy="606.9" r="13.5" fill="url(#gD)"/><circle cx="819.4" cy="627.1" r="13.5" fill="url(#gD)"/><circle cx="849.4" cy="643.3" r="13.5" fill="url(#gD)"/><circle cx="860.7" cy="619.2" r="13.5" fill="url(#gD)"/><circle cx="1286.5" cy="666.5" r="62" fill="#0a4f87" stroke="#fff" stroke-width="9"/><circle cx="1284.6" cy="632.5" r="13.5" fill="url(#gD)"/><circle cx="1255.7" cy="650.4" r="13.5" fill="url(#gD)"/><circle cx="1314.2" cy="648.5" r="13.5" fill="url(#gD)"/><circle cx="1286.5" cy="666.1" r="13.5" fill="url(#gD)"/><circle cx="1256.6" cy="684.0" r="13.5" fill="url(#gD)"/><circle cx="1315.3" cy="682.5" r="13.5" fill="url(#gD)"/><circle cx="1286.5" cy="700.0" r="13.5" fill="url(#gD)"/>
<g clip-path="url(#clipBlue)"><circle cx="943.5" cy="766" r="61.5" fill="#0a4f87" stroke="#fff" stroke-width="9"/></g><circle cx="913.0" cy="750.5" r="13.5" fill="url(#gD)"/><circle cx="975.0" cy="750.5" r="13.5" fill="url(#gD)"/>
<path d="M800.3 1371.0 L796.9 1368.8 L793.6 1366.5 L790.2 1364.3 L786.8 1362.0 L783.4 1359.7 L780.0 1357.4 L776.6 1355.1 L773.2 1352.7 L769.8 1350.3 L766.4 1347.9 L763.1 1345.5 L759.7 1343.1 L756.3 1340.6 L753.0 1338.1 L749.6 1335.6 L746.3 1333.1 L742.9 1330.6 L739.6 1328.0 L736.3 1325.4 L733.0 1322.8 L729.8 1320.1 L726.5 1317.4 L723.3 1314.7 L720.1 1312.0 L716.9 1309.3 L713.7 1306.5 L710.6 1303.7 L707.5 1300.9 L704.4 1298.0 L701.3 1295.1 L698.3 1292.2 L695.3 1289.2 L692.3 1286.3 L689.4 1283.2 L686.5 1280.2 L683.6 1277.1 L680.8 1274.0 L678.0 1270.9 L675.3 1267.7 L672.6 1264.5 L669.9 1261.3 L667.3 1258.0 L664.7 1254.7 L662.2 1251.4 L659.7 1248.0 L657.3 1244.6 L654.9 1241.2 L652.6 1237.7 L650.3 1234.2 L648.1 1230.7 L645.9 1227.1 L643.8 1223.5 L641.7 1219.8 L639.7 1216.1 L637.8 1212.4 L635.9 1208.6 L634.1 1204.8 L632.4 1201.0 L630.7 1197.1 L629.1 1193.2 L627.5 1189.2 L626.0 1185.2 L624.7 1181.2 L623.3 1177.2 L622.1 1173.1 L620.9 1169.1 L619.9 1165.0 L618.9 1160.9 L618.0 1156.7 L617.2 1152.6 L616.4 1148.5 L615.8 1144.4 L615.3 1140.2 L614.9 1136.1 L614.5 1132.0 L614.3 1127.8 L614.2 1123.7 L614.2 1119.6 L614.3 1115.5 L614.5 1111.5 L614.8 1107.4 L615.2 1103.4 L615.8 1099.4 L616.5 1095.4 L617.3 1091.4 L618.2 1087.5 L619.3 1083.6 L620.4 1079.8 L621.8 1076.0 L623.2 1072.2 L624.8 1068.5 L626.5 1064.8 L628.4 1061.1 L630.3 1057.6 L632.4 1054.0 L634.7 1050.6 L637.0 1047.2 L639.5 1043.8 L642.0 1040.5 L644.7 1037.3 L647.5 1034.1 L650.4 1031.0 L653.3 1028.0 L656.4 1025.1 L659.6 1022.2 L662.8 1019.4 L666.1 1016.7 L669.5 1014.1 L672.9 1011.6 L676.5 1009.1 L680.0 1006.8 L683.7 1004.5 L687.4 1002.3 L691.2 1000.3 L695.0 998.3 L698.8 996.4 L702.7 994.6 L706.6 993.0 L710.6 991.4 L714.5 990.0 L718.6 988.6 L722.6 987.4 L726.6 986.3 L730.7 985.4 L734.8 984.5 L738.8 983.8 L742.9 983.2 L747.0 982.7 L751.1 982.3 L755.2 982.0 L759.3 981.8 L763.4 981.7 L767.5 981.8 L771.6 981.9 L775.7 982.0 L779.8 982.3 L783.9 982.6 L788.1 983.0 L792.2 983.4 L796.3 983.9 L800.4 984.5 L804.6 985.1 L808.7 985.7 L812.8 986.4 L817.0 987.1 L821.1 987.8 L825.3 988.6 L829.4 989.3 L833.6 990.1 L837.7 990.9 L841.9 991.6 L846.0 992.4 L850.2 993.2 L854.3 993.9 L858.5 994.7 L862.7 995.4 L866.8 996.0 L871.0 996.7 L875.1 997.3 L879.3 997.9 L883.5 998.5 L887.6 999.0 L891.8 999.5 L895.9 1000.0 L900.1 1000.5 L904.3 1001.0 L908.4 1001.4 L912.6 1001.8 L916.8 1002.2 L920.9 1002.6 L925.1 1003.0 L929.3 1003.3 L933.4 1003.7 L937.6 1004.0 L941.8 1004.3 L945.9 1004.6 L950.1 1004.9 L954.3 1005.1 L958.4 1005.4 L962.6 1005.7 L966.8 1005.9 L970.9 1006.1 L975.1 1006.4 L979.3 1006.6 L983.4 1006.8 L987.6 1007.0 L991.8 1007.2 L995.9 1007.4 L1000.1 1007.6 L1004.2 1007.8 L1008.4 1008.0 L1012.6 1008.1 L1016.7 1008.3 L1020.9 1008.5 L1025.1 1008.7 L1029.2 1008.9 L1033.4 1009.1 L1037.6 1009.2 L1041.7 1009.4 L1045.9 1009.5 L1050.0 1009.7 L1054.2 1009.8 L1058.4 1009.9 L1062.5 1010.0 L1066.7 1010.1 L1070.8 1010.1 L1075.0 1010.2 L1079.2 1010.2 L1083.3 1010.2 L1087.5 1010.2 L1091.6 1010.2 L1095.8 1010.1 L1099.9 1010.1 L1104.1 1010.0 L1108.3 1009.8 L1112.4 1009.7 L1116.6 1009.5 L1120.7 1009.3 L1124.9 1009.0 L1129.0 1008.7 L1133.2 1008.4 L1137.4 1008.1 L1141.5 1007.7 L1145.7 1007.2 L1149.8 1006.8 L1154.0 1006.3 L1158.1 1005.8 L1162.3 1005.3 L1166.4 1004.7 L1170.6 1004.1 L1174.8 1003.5 L1178.9 1002.9 L1183.1 1002.2 L1187.2 1001.6 L1191.4 1000.9 L1195.5 1000.2 L1199.7 999.5 L1203.9 998.8 L1208.0 998.1 L1212.2 997.4 L1216.3 996.7 L1220.5 995.9 L1224.7 995.2 L1228.8 994.5 L1233.0 993.8 L1237.1 993.1 L1241.3 992.4 L1245.5 991.7 L1249.6 991.1 L1253.8 990.4 L1258.0 989.8 L1262.1 989.1 L1266.3 988.5 L1270.5 988.0 L1274.6 987.4 L1278.8 986.9 L1283.0 986.4 L1287.2 985.9 L1291.3 985.5 L1295.5 985.1 L1299.7 984.7 L1303.9 984.4 L1308.1 984.1 L1312.2 983.8 L1316.4 983.6 L1320.6 983.5 L1324.8 983.4 L1329.0 983.3 L1333.2 983.3 L1337.4 983.3 L1341.6 983.4 L1345.7 983.6 L1349.9 984.0 L1354.0 984.4 L1358.1 985.1 L1362.2 985.8 L1366.2 986.7 L1370.3 987.7 L1374.2 988.9 L1378.1 990.2 L1382.0 991.6 L1385.9 993.2 L1389.7 994.9 L1393.4 996.7 L1397.1 998.6 L1400.7 1000.6 L1404.3 1002.8 L1407.8 1005.0 L1411.2 1007.3 L1414.6 1009.8 L1417.9 1012.3 L1421.1 1015.0 L1424.3 1017.7 L1427.3 1020.5 L1430.3 1023.4 L1433.3 1026.4 L1436.1 1029.5 L1438.8 1032.6 L1441.5 1035.8 L1444.0 1039.1 L1446.5 1042.4 L1448.8 1045.8 L1451.1 1049.3 L1453.2 1052.8 L1455.3 1056.4 L1457.2 1060.0 L1459.0 1063.7 L1460.7 1067.5 L1462.3 1071.2 L1463.8 1075.0 L1465.1 1078.9 L1466.4 1082.7 L1467.5 1086.6 L1468.4 1090.6 L1469.3 1094.5 L1470.0 1098.5 L1470.6 1102.5 L1471.1 1106.5 L1471.5 1110.6 L1471.8 1114.6 L1472.0 1118.7 L1472.0 1122.8 L1472.0 1126.9 L1471.8 1131.0 L1471.6 1135.2 L1471.2 1139.3 L1470.8 1143.4 L1470.2 1147.6 L1469.6 1151.7 L1468.8 1155.8 L1468.0 1160.0 L1467.1 1164.1 L1466.1 1168.2 L1465.0 1172.3 L1463.9 1176.4 L1462.6 1180.5 L1461.3 1184.6 L1459.9 1188.7 L1458.4 1192.7 L1456.9 1196.7 L1455.3 1200.8 L1453.6 1204.7 L1451.8 1208.7 L1450.0 1212.6 L1448.2 1216.5 L1446.2 1220.4 L1444.2 1224.3 L1442.2 1228.1 L1440.1 1231.9 L1437.9 1235.6 L1435.7 1239.3 L1433.4 1243.0 L1431.1 1246.6 L1428.8 1250.2 L1426.4 1253.7 L1424.0 1257.2 L1421.5 1260.6 L1419.0 1264.0 L1416.4 1267.3 L1413.8 1270.6 L1411.2 1273.8 L1408.6 1277.0 L1405.9 1280.1 L1403.2 1283.2 L1400.4 1286.3 L1397.6 1289.3 L1394.8 1292.2 L1391.9 1295.1 L1389.0 1298.0 L1386.1 1300.8 L1383.1 1303.6 L1380.2 1306.4 L1377.1 1309.1 L1374.1 1311.8 L1371.0 1314.4 L1367.9 1317.1 L1364.7 1319.6 L1361.6 1322.2 L1358.4 1324.7 L1355.1 1327.2 L1351.8 1329.7 L1348.6 1332.1 L1345.2 1334.6 L1341.9 1336.9 L1338.5 1339.3 L1335.1 1341.7 L1331.7 1344.0 L1328.2 1346.3 L1324.7 1348.6 L1321.2 1350.9 L1317.6 1353.1 L1314.1 1355.4 L1310.5 1357.6 L1306.9 1359.8 L1303.2 1362.0 L1299.6 1364.2 L1295.9 1366.4 L1292.1 1368.5 L1288.4 1370.7 Z" fill="url(#gOi)"/>
<path d="M800.3 1371.0 L796.9 1368.8 L793.6 1366.5 L790.2 1364.3 L786.8 1362.0 L783.4 1359.7 L780.0 1357.4 L776.6 1355.1 L773.2 1352.7 L769.8 1350.3 L766.4 1347.9 L763.1 1345.5 L759.7 1343.1 L756.3 1340.6 L753.0 1338.1 L749.6 1335.6 L746.3 1333.1 L742.9 1330.6 L739.6 1328.0 L736.3 1325.4 L733.0 1322.8 L729.8 1320.1 L726.5 1317.4 L723.3 1314.7 L720.1 1312.0 L716.9 1309.3 L713.7 1306.5 L710.6 1303.7 L707.5 1300.9 L704.4 1298.0 L701.3 1295.1 L698.3 1292.2 L695.3 1289.2 L692.3 1286.3 L689.4 1283.2 L686.5 1280.2 L683.6 1277.1 L680.8 1274.0 L678.0 1270.9 L675.3 1267.7 L672.6 1264.5 L669.9 1261.3 L667.3 1258.0 L664.7 1254.7 L662.2 1251.4 L659.7 1248.0 L657.3 1244.6 L654.9 1241.2 L652.6 1237.7 L650.3 1234.2 L648.1 1230.7 L645.9 1227.1 L643.8 1223.5 L641.7 1219.8 L639.7 1216.1 L637.8 1212.4 L635.9 1208.6 L634.1 1204.8 L632.4 1201.0 L630.7 1197.1 L629.1 1193.2 L627.5 1189.2 L626.0 1185.2 L624.7 1181.2 L623.3 1177.2 L622.1 1173.1 L620.9 1169.1 L619.9 1165.0 L618.9 1160.9 L618.0 1156.7 L617.2 1152.6 L616.4 1148.5 L615.8 1144.4 L615.3 1140.2 L614.9 1136.1 L614.5 1132.0 L614.3 1127.8 L614.2 1123.7 L614.2 1119.6 L614.3 1115.5 L614.5 1111.5 L614.8 1107.4 L615.2 1103.4 L615.8 1099.4 L616.5 1095.4 L617.3 1091.4 L618.2 1087.5 L619.3 1083.6 L620.4 1079.8 L621.8 1076.0 L623.2 1072.2 L624.8 1068.5 L626.5 1064.8 L628.4 1061.1 L630.3 1057.6 L632.4 1054.0 L634.7 1050.6 L637.0 1047.2 L639.5 1043.8 L642.0 1040.5 L644.7 1037.3 L647.5 1034.1 L650.4 1031.0 L653.3 1028.0 L656.4 1025.1 L659.6 1022.2 L662.8 1019.4 L666.1 1016.7 L669.5 1014.1 L672.9 1011.6 L676.5 1009.1 L680.0 1006.8 L683.7 1004.5 L687.4 1002.3 L691.2 1000.3 L695.0 998.3 L698.8 996.4 L702.7 994.6 L706.6 993.0 L710.6 991.4 L714.5 990.0 L718.6 988.6 L722.6 987.4 L726.6 986.3 L730.7 985.4 L734.8 984.5 L738.8 983.8 L742.9 983.2 L747.0 982.7 L751.1 982.3 L755.2 982.0 L759.3 981.8 L763.4 981.7 L767.5 981.8 L771.6 981.9 L775.7 982.0 L779.8 982.3 L783.9 982.6 L788.1 983.0 L792.2 983.4 L796.3 983.9 L800.4 984.5 L804.6 985.1 L808.7 985.7 L812.8 986.4 L817.0 987.1 L821.1 987.8 L825.3 988.6 L829.4 989.3 L833.6 990.1 L837.7 990.9 L841.9 991.6 L846.0 992.4 L850.2 993.2 L854.3 993.9 L858.5 994.7 L862.7 995.4 L866.8 996.0 L871.0 996.7 L875.1 997.3 L879.3 997.9 L883.5 998.5 L887.6 999.0 L891.8 999.5 L895.9 1000.0 L900.1 1000.5 L904.3 1001.0 L908.4 1001.4 L912.6 1001.8 L916.8 1002.2 L920.9 1002.6 L925.1 1003.0 L929.3 1003.3 L933.4 1003.7 L937.6 1004.0 L941.8 1004.3 L945.9 1004.6 L950.1 1004.9 L954.3 1005.1 L958.4 1005.4 L962.6 1005.7 L966.8 1005.9 L970.9 1006.1 L975.1 1006.4 L979.3 1006.6 L983.4 1006.8 L987.6 1007.0 L991.8 1007.2 L995.9 1007.4 L1000.1 1007.6 L1004.2 1007.8 L1008.4 1008.0 L1012.6 1008.1 L1016.7 1008.3 L1020.9 1008.5 L1025.1 1008.7 L1029.2 1008.9 L1033.4 1009.1 L1037.6 1009.2 L1041.7 1009.4 L1045.9 1009.5 L1050.0 1009.7 L1054.2 1009.8 L1058.4 1009.9 L1062.5 1010.0 L1066.7 1010.1 L1070.8 1010.1 L1075.0 1010.2 L1079.2 1010.2 L1083.3 1010.2 L1087.5 1010.2 L1091.6 1010.2 L1095.8 1010.1 L1099.9 1010.1 L1104.1 1010.0 L1108.3 1009.8 L1112.4 1009.7 L1116.6 1009.5 L1120.7 1009.3 L1124.9 1009.0 L1129.0 1008.7 L1133.2 1008.4 L1137.4 1008.1 L1141.5 1007.7 L1145.7 1007.2 L1149.8 1006.8 L1154.0 1006.3 L1158.1 1005.8 L1162.3 1005.3 L1166.4 1004.7 L1170.6 1004.1 L1174.8 1003.5 L1178.9 1002.9 L1183.1 1002.2 L1187.2 1001.6 L1191.4 1000.9 L1195.5 1000.2 L1199.7 999.5 L1203.9 998.8 L1208.0 998.1 L1212.2 997.4 L1216.3 996.7 L1220.5 995.9 L1224.7 995.2 L1228.8 994.5 L1233.0 993.8 L1237.1 993.1 L1241.3 992.4 L1245.5 991.7 L1249.6 991.1 L1253.8 990.4 L1258.0 989.8 L1262.1 989.1 L1266.3 988.5 L1270.5 988.0 L1274.6 987.4 L1278.8 986.9 L1283.0 986.4 L1287.2 985.9 L1291.3 985.5 L1295.5 985.1 L1299.7 984.7 L1303.9 984.4 L1308.1 984.1 L1312.2 983.8 L1316.4 983.6 L1320.6 983.5 L1324.8 983.4 L1329.0 983.3 L1333.2 983.3 L1337.4 983.3 L1341.6 983.4 L1345.7 983.6 L1349.9 984.0 L1354.0 984.4 L1358.1 985.1 L1362.2 985.8 L1366.2 986.7 L1370.3 987.7 L1374.2 988.9 L1378.1 990.2 L1382.0 991.6 L1385.9 993.2 L1389.7 994.9 L1393.4 996.7 L1397.1 998.6 L1400.7 1000.6 L1404.3 1002.8 L1407.8 1005.0 L1411.2 1007.3 L1414.6 1009.8 L1417.9 1012.3 L1421.1 1015.0 L1424.3 1017.7 L1427.3 1020.5 L1430.3 1023.4 L1433.3 1026.4 L1436.1 1029.5 L1438.8 1032.6 L1441.5 1035.8 L1444.0 1039.1 L1446.5 1042.4 L1448.8 1045.8 L1451.1 1049.3 L1453.2 1052.8 L1455.3 1056.4 L1457.2 1060.0 L1459.0 1063.7 L1460.7 1067.5 L1462.3 1071.2 L1463.8 1075.0 L1465.1 1078.9 L1466.4 1082.7 L1467.5 1086.6 L1468.4 1090.6 L1469.3 1094.5 L1470.0 1098.5 L1470.6 1102.5 L1471.1 1106.5 L1471.5 1110.6 L1471.8 1114.6 L1472.0 1118.7 L1472.0 1122.8 L1472.0 1126.9 L1471.8 1131.0 L1471.6 1135.2 L1471.2 1139.3 L1470.8 1143.4 L1470.2 1147.6 L1469.6 1151.7 L1468.8 1155.8 L1468.0 1160.0 L1467.1 1164.1 L1466.1 1168.2 L1465.0 1172.3 L1463.9 1176.4 L1462.6 1180.5 L1461.3 1184.6 L1459.9 1188.7 L1458.4 1192.7 L1456.9 1196.7 L1455.3 1200.8 L1453.6 1204.7 L1451.8 1208.7 L1450.0 1212.6 L1448.2 1216.5 L1446.2 1220.4 L1444.2 1224.3 L1442.2 1228.1 L1440.1 1231.9 L1437.9 1235.6 L1435.7 1239.3 L1433.4 1243.0 L1431.1 1246.6 L1428.8 1250.2 L1426.4 1253.7 L1424.0 1257.2 L1421.5 1260.6 L1419.0 1264.0 L1416.4 1267.3 L1413.8 1270.6 L1411.2 1273.8 L1408.6 1277.0 L1405.9 1280.1 L1403.2 1283.2 L1400.4 1286.3 L1397.6 1289.3 L1394.8 1292.2 L1391.9 1295.1 L1389.0 1298.0 L1386.1 1300.8 L1383.1 1303.6 L1380.2 1306.4 L1377.1 1309.1 L1374.1 1311.8 L1371.0 1314.4 L1367.9 1317.1 L1364.7 1319.6 L1361.6 1322.2 L1358.4 1324.7 L1355.1 1327.2 L1351.8 1329.7 L1348.6 1332.1 L1345.2 1334.6 L1341.9 1336.9 L1338.5 1339.3 L1335.1 1341.7 L1331.7 1344.0 L1328.2 1346.3 L1324.7 1348.6 L1321.2 1350.9 L1317.6 1353.1 L1314.1 1355.4 L1310.5 1357.6 L1306.9 1359.8 L1303.2 1362.0 L1299.6 1364.2 L1295.9 1366.4 L1292.1 1368.5 L1288.4 1370.7 Z" fill="none" stroke="url(#gOo)" stroke-width="35" stroke-linejoin="miter" stroke-miterlimit="10" clip-path="url(#clipOrg)"/>
<path d="M919.2 1067.0 Q941.3 1080.0 963.4 1067.4" fill="none" stroke="#fbe3cf" stroke-width="4.2" stroke-linecap="round"/><path d="M911.1 1081.7 Q941.0 1097.8 970.8 1082.0" fill="none" stroke="#fbe3cf" stroke-width="4.0" stroke-linecap="round"/><path d="M903.8 1097.0 Q941.3 1116.0 978.9 1097.9" fill="none" stroke="#fbe3cf" stroke-width="3.6" stroke-linecap="round"/><path d="M895.7 1111.9 Q941.4 1133.6 987.0 1112.6" fill="none" stroke="#fbe3cf" stroke-width="3.2" stroke-linecap="round"/><path d="M887.6 1126.6 Q941.3 1152.7 995.0 1127.3" fill="none" stroke="#fbe3cf" stroke-width="2.7" stroke-linecap="round"/><path d="M878.7 1140.6 Q941.0 1172.3 1003.2 1142.0" fill="none" stroke="#fbe3cf" stroke-width="2.2" stroke-linecap="round"/><path d="M869.9 1155.3 Q940.6 1191.8 1011.3 1156.0" fill="none" stroke="#fbe3cf" stroke-width="1.7" stroke-linecap="round"/>
<ellipse cx="823.0" cy="991.0" rx="38.3" ry="44" fill="#fff"/><ellipse cx="823.0" cy="984.0" rx="38" ry="44" fill="#f6a268"/><ellipse cx="940.5" cy="1014.0" rx="38.3" ry="44" fill="#fff"/><ellipse cx="940.5" cy="1007.0" rx="38" ry="44" fill="#f6a268"/><ellipse cx="1058.8" cy="1023.3" rx="38.3" ry="44" fill="#fff"/><ellipse cx="1058.8" cy="1016.3" rx="38" ry="44" fill="#f6a268"/><ellipse cx="1175.8" cy="1013.0" rx="38.3" ry="44" fill="#fff"/><ellipse cx="1175.8" cy="1006.0" rx="38" ry="44" fill="#f6a268"/><ellipse cx="1293.3" cy="991.0" rx="38.3" ry="44" fill="#fff"/><ellipse cx="1293.3" cy="984.0" rx="38" ry="44" fill="#f6a268"/>
<circle cx="927.0" cy="809.5" r="13.5" fill="url(#gD)"/><circle cx="984.5" cy="809.5" r="13.5" fill="url(#gD)"/><circle cx="915.4" cy="870.0" r="13.5" fill="url(#gD)"/><circle cx="887.0" cy="931.5" r="13.5" fill="url(#gD)"/>
<circle cx="940.7" cy="961.2" r="13.3" fill="url(#gD)"/>
<circle cx="822.8" cy="939.0" r="9.8" fill="url(#gA)"/><circle cx="1058.3" cy="970.9" r="9.8" fill="url(#gA)"/><circle cx="1175.8" cy="961.3" r="9.8" fill="url(#gA)"/><circle cx="1293.6" cy="938.6" r="9.8" fill="url(#gA)"/>
<polygon points="979.4,921.5 993.5,919.5 985.5,927.5" fill="#f39c5a" fill-opacity="0.85"/><polygon points="976.0,941.6 994.9,938.3 983.4,949.7" fill="#f39c5a" fill-opacity="0.85"/><polygon points="1004.3,934.3 1011.6,934.3 1009.6,943.0" fill="#f39c5a" fill-opacity="0.85"/><polygon points="1016.4,938.3 1038.5,935.2 1023.7,947.7" fill="#f39c5a" fill-opacity="0.45"/><polygon points="1009.0,951.7 1027.8,949.0 1017.0,960.5" fill="#f39c5a" fill-opacity="0.85"/><polygon points="1056.0,950.4 1078.2,947.0 1066.0,961.1" fill="#f39c5a" fill-opacity="0.50"/><polygon points="1068.0,944.0 1072.0,950.0 1065.0,953.0" fill="#f39c5a" fill-opacity="0.85"/><polygon points="1053.3,934.3 1059.3,935.0 1057.3,940.3" fill="#f39c5a" fill-opacity="0.85"/><polygon points="1088.0,962.0 1092.0,957.0 1092.0,964.0" fill="#f39c5a" fill-opacity="0.85"/><polygon points="1076.1,971.2 1084.9,969.9 1079.5,975.9" fill="#f39c5a" fill-opacity="0.85"/><polygon points="1089.0,966.0 1093.0,966.0 1092.0,972.0" fill="#f39c5a" fill-opacity="0.85"/><polygon points="1092.3,976.6 1101.0,975.9 1096.3,981.3" fill="#f39c5a" fill-opacity="0.85"/><polygon points="1124.5,956.4 1128.5,944.3 1132.6,954.4" fill="#f39c5a" fill-opacity="0.45"/><polygon points="1165.5,939.6 1170.9,938.3 1173.5,945.0" fill="#f39c5a" fill-opacity="0.85"/><polygon points="1150.7,954.4 1162.8,947.0 1158.1,957.8" fill="#f39c5a" fill-opacity="0.85"/><polygon points="1175.6,953.0 1187.7,944.3 1182.3,955.1" fill="#f39c5a" fill-opacity="0.85"/><polygon points="1225.0,946.0 1230.0,944.0 1228.0,941.0" fill="#f39c5a" fill-opacity="0.85"/><polygon points="1213.9,957.8 1222.6,955.8 1217.9,961.8" fill="#f39c5a" fill-opacity="0.85"/><polygon points="1226.0,952.0 1231.0,951.0 1230.0,957.0" fill="#f39c5a" fill-opacity="0.85"/><polygon points="1231.3,961.8 1240.0,959.1 1235.3,965.8" fill="#f39c5a" fill-opacity="0.85"/><polygon points="1106.3,845.4 1116.4,839.6 1113.2,834.8" fill="#f39c5a" fill-opacity="0.85"/><polygon points="1145.4,828.0 1151.2,831.1 1147.5,840.1" fill="#f39c5a" fill-opacity="0.85"/><polygon points="1152.3,842.8 1157.5,840.1 1162.8,847.0" fill="#f39c5a" fill-opacity="0.85"/><polygon points="1169.1,850.7 1177.6,843.3 1176.5,850.7" fill="#f39c5a" fill-opacity="0.85"/><polygon points="1232.5,851.2 1254.1,848.6 1242.0,861.8" fill="#f39c5a" fill-opacity="0.85"/><polygon points="1260.5,832.2 1267.3,817.4 1271.5,824.8" fill="#f39c5a" fill-opacity="0.85"/><polygon points="1262.6,840.1 1271.5,840.1 1272.0,852.8" fill="#f39c5a" fill-opacity="0.85"/><polygon points="1270.5,863.3 1283.2,870.7 1278.4,872.8" fill="#f39c5a" fill-opacity="0.85"/><polygon points="1269.4,874.8 1275.8,872.8 1272.6,877.6" fill="#f39c5a" fill-opacity="0.85"/><polygon points="1282.6,877.0 1289.0,874.4 1285.8,878.6" fill="#f39c5a" fill-opacity="0.85"/><polygon points="1250.4,882.3 1254.7,883.4 1253.6,889.7" fill="#f39c5a" fill-opacity="0.85"/><polygon points="1257.3,890.8 1261.5,888.7 1265.7,892.4" fill="#f39c5a" fill-opacity="0.85"/><polygon points="1269.4,896.6 1275.8,888.1 1276.3,896.6" fill="#f39c5a" fill-opacity="0.85"/><polygon points="1251.0,907.7 1257.8,898.2 1258.3,907.7" fill="#f39c5a" fill-opacity="0.85"/><polygon points="1053.0,934.0 1060.0,934.0 1057.0,941.0" fill="#f39c5a" fill-opacity="0.40"/><polygon points="1066.0,934.5 1077.0,934.0 1072.0,937.0" fill="#f39c5a" fill-opacity="0.40"/><polygon points="1081.0,934.0 1089.0,934.0 1084.0,938.0" fill="#f39c5a" fill-opacity="0.40"/><polygon points="1124.0,934.5 1135.0,934.0 1129.0,936.5" fill="#f39c5a" fill-opacity="0.40"/><polygon points="1140.0,934.0 1149.0,934.0 1143.0,938.0" fill="#f39c5a" fill-opacity="0.40"/><polygon points="1172.0,933.0 1176.0,933.0 1174.0,937.0" fill="#f39c5a" fill-opacity="0.40"/><polygon points="1184.0,849.6 1188.0,850.5 1186.0,846.0" fill="#f39c5a" fill-opacity="0.40"/><polygon points="1198.0,850.5 1201.0,850.5 1199.5,846.0" fill="#f39c5a" fill-opacity="0.40"/>
<line x1="1108.0" y1="775.0" x2="1108.0" y2="835.4" stroke="#000" stroke-width="2"/><polygon points="1108.0,767.0 1101.7,778.0 1114.3,778.0" fill="#000"/><polygon points="1108.0,843.4 1101.7,832.4 1114.3,832.4" fill="#000"/><line x1="1108.0" y1="947.0" x2="1108.0" y2="998.0" stroke="#000" stroke-width="2"/><polygon points="1108.0,939.0 1101.7,950.0 1114.3,950.0" fill="#000"/><polygon points="1108.0,1006.0 1101.7,995.0 1114.3,995.0" fill="#000"/>
<path d="M652.6 343.6 H1039.7 V412.6" stroke="#000" stroke-width="2" fill="none"/><circle cx="1039.7" cy="412.6" r="6" fill="#000"/><path d="M556.6 871.4 H822.8 V930" stroke="#000" stroke-width="2" fill="none"/><circle cx="822.8" cy="930" r="5.5" fill="#000"/><path d="M1281 861.8 H1644.3" stroke="#000" stroke-width="2" fill="none"/><circle cx="1281" cy="861.8" r="7.5" fill="#000"/><path d="M1300.6 1000.8 H1644.3" stroke="#000" stroke-width="2" fill="none"/><circle cx="1300.6" cy="1000.8" r="7.5" fill="#000"/>
<g filter="url(#noop)"><rect x="274.2" y="311.2" width="378.4" height="69.8" fill="#fff" stroke="#ee7f33" stroke-width="2.2"/><text x="290.09" y="354.0" font-size="36.0" fill="#0b5190" textLength="339.10" lengthAdjust="spacingAndGlyphs">Synaptisches Vesikel</text><rect x="68.8" y="756.0" width="487.8" height="253.2" fill="#fff" stroke="#ee7f33" stroke-width="2.2"/><text x="82.78" y="811.0" font-size="36.0" fill="#0b5190" textLength="436.77" lengthAdjust="spacingAndGlyphs">Neuroleptika blockieren die</text><text x="84.81" y="854.0" font-size="36.0" fill="#0b5190" textLength="439.51" lengthAdjust="spacingAndGlyphs">Andockstellen (Rezeptoren)</text><text x="83.59" y="897.0" font-size="36.0" fill="#0b5190" textLength="403.02" lengthAdjust="spacingAndGlyphs">für den Nervenbotenstoff</text><text x="83.21" y="940.0" font-size="36.0" fill="#0b5190" textLength="402.60" lengthAdjust="spacingAndGlyphs">Dopamin und vermindern</text><text x="82.87" y="983.0" font-size="36.0" fill="#0b5190" textLength="412.09" lengthAdjust="spacingAndGlyphs">damit die Nervenaktivität.</text><rect x="997.8" y="852.2" width="220.7" height="80.3" fill="#fff" stroke="#ee7f33" stroke-width="2.2"/><text x="1010.10" y="882.0" font-size="32.5" fill="#0b5190" textLength="187.65" lengthAdjust="spacingAndGlyphs">Synaptischer</text><text x="1070.11" y="921.0" font-size="32.5" fill="#0b5190" textLength="73.67" lengthAdjust="spacingAndGlyphs">Spalt</text><rect x="1644.3" y="811.3" width="220.2" height="106.3" fill="#fff" stroke="#ee7f33" stroke-width="2.2"/><text x="1658.60" y="851.8" font-size="36.0" fill="#0b5190" textLength="143.87" lengthAdjust="spacingAndGlyphs">Dopamin</text><text x="1658.51" y="894.8" font-size="36.0" fill="#0b5190" textLength="191.16" lengthAdjust="spacingAndGlyphs">Metaboliten</text><rect x="1644.3" y="947.5" width="220.2" height="106.5" fill="#fff" stroke="#ee7f33" stroke-width="2.2"/><text x="1658.60" y="990.8" font-size="36.0" fill="#0b5190" textLength="143.87" lengthAdjust="spacingAndGlyphs">Dopamin</text><text x="1658.69" y="1034.0" font-size="36.0" fill="#0b5190" textLength="180.67" lengthAdjust="spacingAndGlyphs">Rezeptoren</text>
<circle cx="1746.3" cy="345.8" r="26.7" fill="url(#gD)"/><text x="1654.61" y="409.7" font-size="47.0" fill="#000" textLength="187.57" lengthAdjust="spacingAndGlyphs">Dopamin</text><circle cx="1746.3" cy="459.2" r="26.6" fill="url(#gA)"/><text x="1601.60" y="519.4" font-size="47.0" fill="#000" textLength="304.11" lengthAdjust="spacingAndGlyphs">Antipsychotika</text>
<text x="873.86" y="1234.8" font-size="46.0" fill="#fff" textLength="129.66" lengthAdjust="spacingAndGlyphs">Signal</text></g>
</svg>
</body></html>
